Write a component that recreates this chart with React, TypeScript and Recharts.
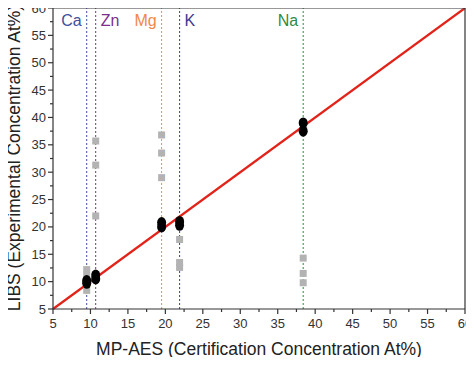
import {
  ComposedChart, Scatter, XAxis, YAxis, ReferenceLine, Line,
} from "recharts";

// certification (MP-AES) concentration of each element
const ELEMENTS = ["Ca", "Zn", "Mg", "K", "Na"];
const CERT_X = [9.5, 10.7, 19.5, 21.9, 38.4];
const ELEMENT_COLORS = ["#3d4f9e", "#7b2f8c", "#f0874a", "#3b3b8f", "#2e8b45"];

// LIBS experimental values (black)
const LIBS_X = [9.5, 9.5, 10.7, 10.7, 19.5, 19.5, 21.9, 21.9, 38.4, 38.4];
const LIBS_Y = [9.7, 10.2, 10.5, 11.2, 20.0, 20.8, 20.3, 21.0, 37.5, 39.0];

// uncorrected values (grey squares)
const GREY_X = [9.5, 9.5, 9.5, 9.5, 10.7, 10.7, 10.7, 19.5, 19.5, 19.5, 21.9, 21.9, 21.9, 38.4, 38.4, 38.4];
const GREY_Y = [8.4, 9.6, 11.0, 12.2, 35.7, 31.3, 22.0, 36.8, 33.5, 29.0, 17.7, 13.5, 12.6, 14.3, 11.5, 9.8];

const X_TICKS = [5, 7.5, 10, 12.5, 15, 17.5, 20, 22.5, 25, 27.5, 30, 32.5, 35, 37.5, 40, 42.5, 45, 47.5, 50, 52.5, 55, 57.5, 60];
const Y_TICKS = X_TICKS;

const libsData = LIBS_X.map((x, i) => ({ x, y: LIBS_Y[i] }));
const greyData = GREY_X.map((x, i) => ({ x, y: GREY_Y[i] }));
const fitData = [{ x: 5, y: 5 }, { x: 60, y: 60 }];

const FONT = "Liberation Sans, Arial, sans-serif";

// eslint-disable-next-line @typescript-eslint/no-explicit-any
function XTick({ x, y, payload }: any) {
  const major = payload.value % 5 === 0;
  return (
    <g>
      <line x1={x} x2={x} y1={y} y2={y + (major ? 5 : 3)} stroke="#333" strokeWidth={1.2} />
      {major && (
        <text x={x} y={y + 19} textAnchor="middle" fontSize={13} fill="#333" fontFamily={FONT}>
          {payload.value}
        </text>
      )}
    </g>
  );
}

// eslint-disable-next-line @typescript-eslint/no-explicit-any
function YTick({ x, y, payload }: any) {
  const major = payload.value % 5 === 0;
  return (
    <g>
      <line x1={x} x2={x - (major ? 5 : 3)} y1={y} y2={y} stroke="#333" strokeWidth={1.2} />
      {major && (
        <text x={x - 7} y={y + 4.5} textAnchor="end" fontSize={13} fill="#333" fontFamily={FONT}>
          {payload.value}
        </text>
      )}
    </g>
  );
}

// eslint-disable-next-line @typescript-eslint/no-explicit-any
function BlackDot({ cx, cy }: any) {
  return <ellipse cx={cx} cy={cy} rx={4.5} ry={5.5} fill="#000" />;
}

// eslint-disable-next-line @typescript-eslint/no-explicit-any
function GreySquare({ cx, cy }: any) {
  return <rect x={cx - 3.5} y={cy - 3.5} width={7} height={7} fill="#b3b3b3" />;
}

// label sits left or right of each line
const LABEL_SIDE = [-1, 1, -1, 1, -1];

export default function App() {
  return (
    <div style={{ position: "relative", width: 474, height: 365, margin: -8, fontFamily: FONT }}>
      <ComposedChart
        width={474}
        height={365}
        margin={{ top: 7, right: 8, bottom: 55, left: 52 }}
        style={{ overflow: "visible" }}
      >
        <XAxis
          dataKey="x"
          type="number"
          domain={[5, 60]}
          ticks={X_TICKS}
          interval={0}
          tick={<XTick />}
          tickSize={0}
          tickMargin={0}
          tickLine={false}
          axisLine={{ stroke: "#333", strokeWidth: 1.2 }}
          height={1}
          xAxisId="b"
        />
        <XAxis xAxisId="t" orientation="top" type="number" domain={[5, 60]} tick={false}
          tickLine={false} axisLine={{ stroke: "#333", strokeWidth: 1.2 }} height={1} />
        <YAxis
          dataKey="y"
          type="number"
          domain={[5, 60]}
          ticks={Y_TICKS}
          interval={0}
          tick={<YTick />}
          tickSize={0}
          tickMargin={0}
          tickLine={false}
          axisLine={{ stroke: "#333", strokeWidth: 1.2 }}
          width={1}
          yAxisId="l"
        />
        <YAxis yAxisId="r" orientation="right" type="number" domain={[5, 60]} tick={false}
          tickLine={false} axisLine={{ stroke: "#333", strokeWidth: 1.2 }} width={1} />

        {ELEMENTS.map((el, i) => (
          <ReferenceLine
            key={el}
            x={CERT_X[i]}
            xAxisId="b"
            yAxisId="l"
            stroke={ELEMENT_COLORS[i]}
            strokeDasharray="2 2"
            strokeWidth={1}
            label={{
              value: el,
              position: LABEL_SIDE[i] < 0 ? "insideTopRight" : "insideTopLeft",
              offset: 5,
              dy: 2,
              fill: ELEMENT_COLORS[i],
              fontSize: 16,
              fontFamily: FONT,
            }}
          />
        ))}

        <Scatter data={greyData} xAxisId="b" yAxisId="l" shape={<GreySquare />} isAnimationActive={false} />
        <Line data={fitData} dataKey="y" xAxisId="b" yAxisId="l" stroke="#e2231a" strokeWidth={2.2}
          dot={false} activeDot={false} isAnimationActive={false} />
        <Scatter data={libsData} xAxisId="b" yAxisId="l" shape={<BlackDot />} isAnimationActive={false} />
      </ComposedChart>
      <div style={{ position: "absolute", left: 0, top: 339, width: 518, textAlign: "center",
        fontSize: 17.5, color: "#222" }}>
        MP-AES (Certification Concentration At%)
      </div>
      <div style={{ position: "absolute", left: 14, top: 158, transform: "translate(-50%, -50%) rotate(-90deg)",
        whiteSpace: "nowrap", fontSize: 17.5, color: "#222" }}>
        LIBS (Experimental Concentration At%)
      </div>
    </div>
  );
}
